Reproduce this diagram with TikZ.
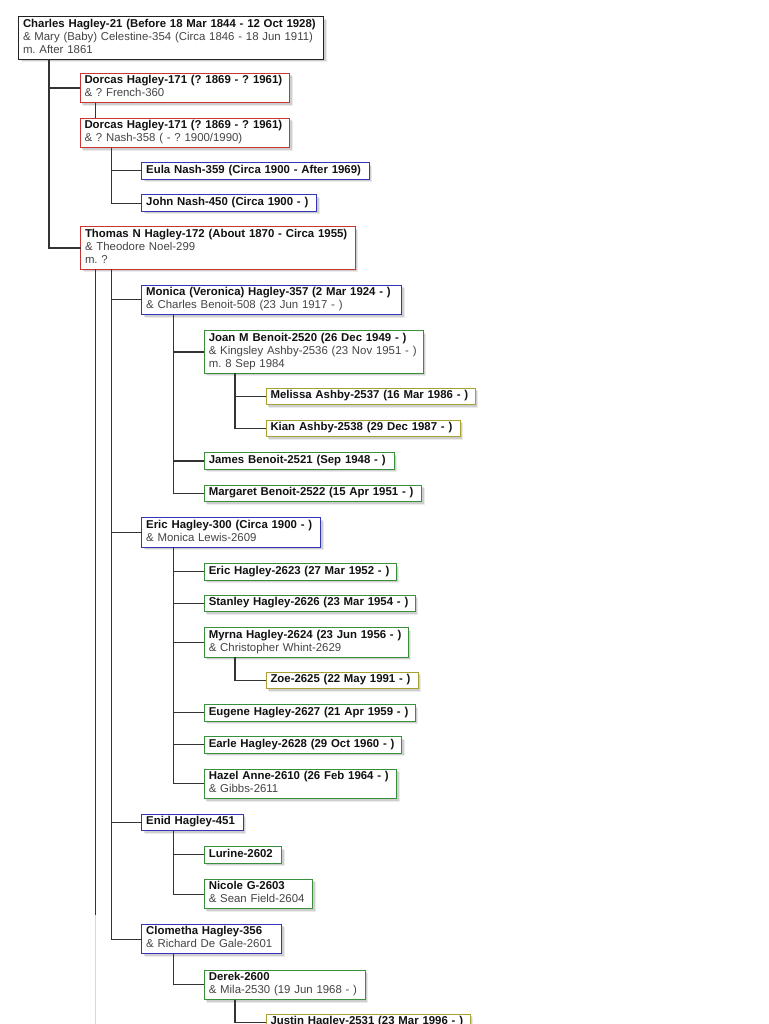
\documentclass[tikz,border=0pt]{standalone}
\usepackage{fontspec}
\setmainfont{Liberation Sans}
\usetikzlibrary{shadows}
\definecolor{cblack}{HTML}{222222}
\definecolor{cred}{HTML}{CC3333}
\definecolor{cblue}{HTML}{3535BB}
\definecolor{cgreen}{HTML}{3A8F3A}
\definecolor{cyel}{HTML}{A8A030}
\definecolor{txt2}{HTML}{444444}
\definecolor{txt1}{HTML}{111111}
\definecolor{conncol}{HTML}{333333}
\frenchspacing
\begin{document}
\begin{tikzpicture}[x=1pt,y=-1pt,
  person/.style={draw, fill=white, line width=1pt, outer sep=0pt,
    inner xsep=4.5pt, inner ysep=1.5pt, align=left, anchor=north west,
    text height=9pt, text=txt1, font=\frenchspacing\fontsize{11.4}{13}\selectfont,
    general shadow={shadow xshift=3pt, shadow yshift=-3pt, fill=black, opacity=0.08},
    general shadow={shadow xshift=2pt, shadow yshift=-2pt, fill=black, opacity=0.12}},
  l1/.style={text depth=4.5pt},
  l2/.style={text depth=17.5pt},
  l3/.style={text depth=30.5pt},
  conn/.style={draw=conncol, line width=1.1pt},
  faint/.style={draw=black!15, line width=1pt}]
\useasboundingbox (0,0) rectangle (768,1024);
\fill[white] (0,0) rectangle (768,1024);
\clip (0,0) rectangle (768,1024);

% trunk positions
\coordinate (t1) at (49,0);
\coordinate (t2) at (95.5,0);
\coordinate (t3) at (111.7,0);
\coordinate (t4) at (173.3,0);
\coordinate (t5) at (235,0);
\coordinate (more) at (95.5,915);
\coordinate (pageend) at (95.5,1024);

\node[person, draw=cblack, l3, text width=296pt] (charles) at (18.5,16.7)
  {\textbf{Charles Hagley-21 (Before 18 Mar 1844 - 12 Oct 1928)}\\\color{txt2}\& Mary (Baby) Celestine-354 (Circa 1846 - 18 Jun 1911)\\m. After 1861};
\node[person, draw=cred, l2, text width=200.5pt] (dorcasA) at (80,73.3)
  {\textbf{Dorcas Hagley-171 (? 1869 - ? 1961)}\\\color{txt2}\& ? French-360};
\node[person, draw=cred, l2, text width=200.5pt] (dorcasB) at (80,118.3)
  {\textbf{Dorcas Hagley-171 (? 1869 - ? 1961)}\\\color{txt2}\& ? Nash-358 ( - ? 1900/1990)};
\node[person, draw=cblue, l1, text width=218.6pt] (eula) at (141.7,162.7)
  {\textbf{Eula Nash-359 (Circa 1900 - After 1969)}};
\node[person, draw=cblue, l1, text width=166pt] (john) at (141.7,195)
  {\textbf{John Nash-450 (Circa 1900 - )}};
\node[person, draw=cred, l3, text width=265.5pt] (thomas) at (80.5,226.7)
  {\textbf{Thomas N Hagley-172 (About 1870 - Circa 1955)}\\\color{txt2}\& Theodore Noel-299\\m. ?};
\node[person, draw=cblue, l2, text width=251pt] (monica) at (141.7,285)
  {\textbf{Monica (Veronica) Hagley-357 (2 Mar 1924 - )}\\\color{txt2}\& Charles Benoit-508 (23 Jun 1917 - )};
\node[person, draw=cgreen, l3, text width=210pt] (joan) at (204.3,330.7)
  {\textbf{Joan M Benoit-2520 (26 Dec 1949 - )}\\\color{txt2}\& Kingsley Ashby-2536 (23 Nov 1951 - )\\m. 8 Sep 1984};
\node[person, draw=cyel, l1, text width=200pt] (melissa) at (266,388.3)
  {\textbf{Melissa Ashby-2537 (16 Mar 1986 - )}};
\node[person, draw=cyel, l1, text width=185pt] (kian) at (266,420)
  {\textbf{Kian Ashby-2538 (29 Dec 1987 - )}};
\node[person, draw=cgreen, l1, text width=180.7pt] (james) at (204.3,452.7)
  {\textbf{James Benoit-2521 (Sep 1948 - )}};
\node[person, draw=cgreen, l1, text width=208.4pt] (margaret) at (204.3,485)
  {\textbf{Margaret Benoit-2522 (15 Apr 1951 - )}};
\node[person, draw=cblue, l2, text width=170pt] (eric) at (141.7,517.7)
  {\textbf{Eric Hagley-300 (Circa 1900 - )}\\\color{txt2}\& Monica Lewis-2609};
\node[person, draw=cgreen, l1, text width=182.7pt] (ericB) at (204.3,563.5)
  {\textbf{Eric Hagley-2623 (27 Mar 1952 - )}};
\node[person, draw=cgreen, l1, text width=201.7pt] (stanley) at (204.3,595)
  {\textbf{Stanley Hagley-2626 (23 Mar 1954 - )}};
\node[person, draw=cgreen, l2, text width=195pt] (myrna) at (204.3,627.7)
  {\textbf{Myrna Hagley-2624 (23 Jun 1956 - )}\\\color{txt2}\& Christopher Whint-2629};
\node[person, draw=cyel, l1, text width=143.3pt] (zoe) at (266,672)
  {\textbf{Zoe-2625 (22 May 1991 - )}};
\node[person, draw=cgreen, l1, text width=201.7pt] (eugene) at (204.3,704.5)
  {\textbf{Eugene Hagley-2627 (21 Apr 1959 - )}};
\node[person, draw=cgreen, l1, text width=188.4pt] (earle) at (204.3,736.5)
  {\textbf{Earle Hagley-2628 (29 Oct 1960 - )}};
\node[person, draw=cgreen, l2, text width=183.4pt] (hazel) at (204.3,769)
  {\textbf{Hazel Anne-2610 (26 Feb 1964 - )}\\\color{txt2}\& Gibbs-2611};
\node[person, draw=cblue, l1, text width=92.6pt] (enid) at (141.7,814.3)
  {\textbf{Enid Hagley-451}};
\node[person, draw=cgreen, l1, text width=68.4pt] (lurine) at (204.3,846.5)
  {\textbf{Lurine-2602}};
\node[person, draw=cgreen, l2, text width=99.4pt] (nicole) at (204.3,879.3)
  {\textbf{Nicole G-2603}\\\color{txt2}\& Sean Field-2604};
\node[person, draw=cblue, l2, text width=131pt] (clometha) at (141.7,924.3)
  {\textbf{Clometha Hagley-356}\\\color{txt2}\& Richard De Gale-2601};
\node[person, draw=cgreen, l2, text width=151.7pt] (derek) at (204.3,970)
  {\textbf{Derek-2600}\\\color{txt2}\& Mila-2530 (19 Jun 1968 - )};
\node[person, draw=cyel, l1, text width=195pt] (justin) at (266,1014)
  {\textbf{Justin Hagley-2531 (23 Mar 1996 - )}};

% connectors
\draw[conn] (charles.south -| t1) |- (dorcasA.west);
\draw[conn] (charles.south -| t1) |- (thomas.west);
\draw[conn] (dorcasA.south -| t2) -- (dorcasB.north -| t2);
\draw[conn] (dorcasB.south -| t3) |- (eula.west);
\draw[conn] (dorcasB.south -| t3) |- (john.west);
\draw[conn] (thomas.south -| more) -- (more);
\draw[faint] (more) -- (pageend);
\draw[conn] (thomas.south -| t3) |- (monica.west);
\draw[conn] (thomas.south -| t3) |- (eric.west);
\draw[conn] (thomas.south -| t3) |- (enid.west);
\draw[conn] (thomas.south -| t3) |- (clometha.west);
\draw[conn] (monica.south -| t4) |- (joan.west);
\draw[conn] (monica.south -| t4) |- (james.west);
\draw[conn] (monica.south -| t4) |- (margaret.west);
\draw[conn] (joan.south -| t5) |- (melissa.west);
\draw[conn] (joan.south -| t5) |- (kian.west);
\draw[conn] (eric.south -| t4) |- (ericB.west);
\draw[conn] (eric.south -| t4) |- (stanley.west);
\draw[conn] (eric.south -| t4) |- (myrna.west);
\draw[conn] (eric.south -| t4) |- (eugene.west);
\draw[conn] (eric.south -| t4) |- (earle.west);
\draw[conn] (eric.south -| t4) |- (hazel.west);
\draw[conn] (myrna.south -| t5) |- (zoe.west);
\draw[conn] (enid.south -| t4) |- (lurine.west);
\draw[conn] (enid.south -| t4) |- (nicole.west);
\draw[conn] (clometha.south -| t4) |- (derek.west);
\draw[conn] (derek.south -| t5) |- (justin.west);
\end{tikzpicture}
\end{document}
